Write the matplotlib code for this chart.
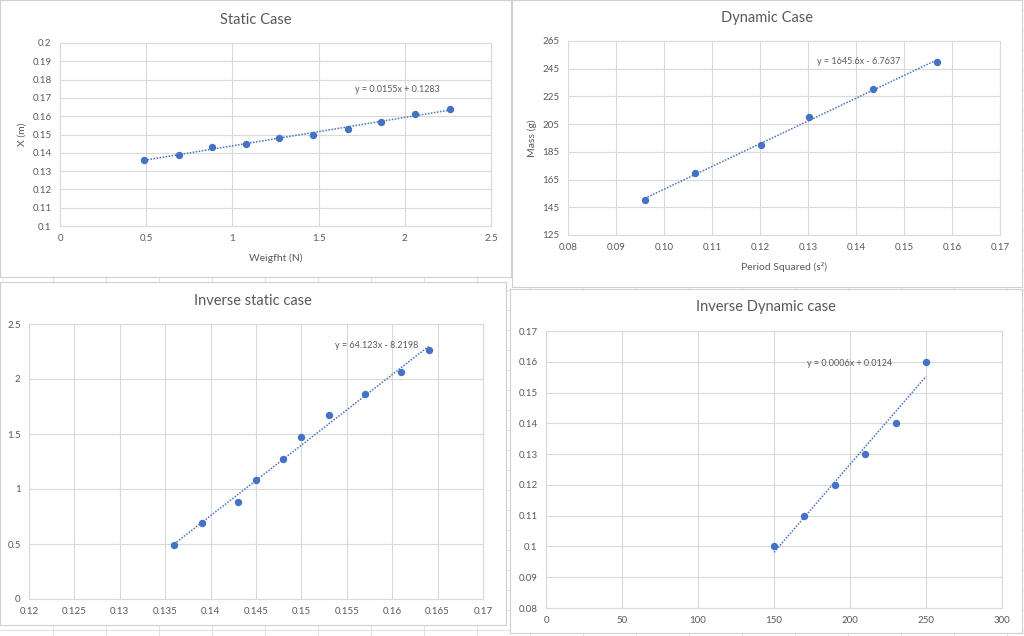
import numpy as np
import matplotlib
matplotlib.use('Agg')
from matplotlib import pyplot as plt
from matplotlib.ticker import FuncFormatter

plt.rcParams['font.family'] = ['Lato', 'DejaVu Sans']

# data
static_weight = [0.49, 0.69, 0.88, 1.08, 1.27, 1.47, 1.67, 1.86, 2.06, 2.26]
static_ext = [0.136, 0.139, 0.143, 0.145, 0.148, 0.150, 0.153, 0.157, 0.161, 0.164]

period_sq = [0.0960, 0.1065, 0.1203, 0.1302, 0.1435, 0.1569]
mass_g = [150, 170, 190, 210, 230, 250]

inv_dyn_y = [0.10, 0.11, 0.12, 0.13, 0.14, 0.16]

eq_static = 'y = 0.0155x + 0.1283'
eq_dynamic = 'y = 1645.6x - 6.7637'
eq_inv_static = 'y = 64.123x - 8.2198'
eq_inv_dynamic = 'y = 0.0006x + 0.0124'

BLUE = '#4472C4'
GRID = '#d9d9d9'
TXT = '#595959'
W, H = 1024, 636


def px_rect(x0, y0, x1, y1):
    return [x0 / W, 1 - y1 / H, (x1 - x0) / W, (y1 - y0) / H]


def panel(fig, frame, plot, title, title_y):
    bg = fig.add_axes(px_rect(*frame))
    bg.set_xticks([])
    bg.set_yticks([])
    bg.set_facecolor('white')
    for s in bg.spines.values():
        s.set_color('#d0d0d0')
        s.set_linewidth(0.8)
    fig.text((frame[0] + frame[2]) / 2 / W, 1 - title_y / H, title,
             ha='center', va='center', fontsize=10.5, color=TXT)
    ax = fig.add_axes(px_rect(*plot))
    ax.set_facecolor('white')
    ax.grid(True, color=GRID, lw=0.8)
    ax.set_axisbelow(True)
    for s in ax.spines.values():
        s.set_color(GRID)
        s.set_linewidth(0.8)
    ax.tick_params(length=0, labelsize=7, labelcolor=TXT, pad=6)
    return ax


def scatter_fit(ax, x, y, eq, eq_xy):
    x = np.asarray(x)
    y = np.asarray(y)
    k, b = np.polyfit(x, y, 1)
    xs = np.array([x.min(), x.max()])
    ax.plot(xs, k * xs + b, color=BLUE, lw=1.1, ls=(0, (1, 1)), zorder=2)
    ax.plot(x, y, 'o', color=BLUE, ms=4.3, zorder=3)
    ax.text(eq_xy[0], eq_xy[1], eq, fontsize=6.5, color=TXT, va='center', ha='left')


gfmt = FuncFormatter(lambda v, p: '{:g}'.format(round(v, 6)))

fig = plt.figure(figsize=(10.24, 6.36), dpi=100)

# faint spreadsheet cell grid behind the charts
bgax = fig.add_axes([0, 0, 1, 1])
bgax.set_xlim(0, W)
bgax.set_ylim(H, 0)
bgax.axis('off')
for cx in np.arange(53, W, 53):
    bgax.axvline(cx, color='#e3e3e3', lw=0.8)
for cy in np.arange(10, H, 20):
    bgax.axhline(cy, color='#e3e3e3', lw=0.8)

# Static case
ax1 = panel(fig, (0, 0, 511, 277), (60, 43, 491, 226), 'Static Case', 20)
scatter_fit(ax1, static_weight, static_ext, eq_static, (1.71, 0.1745))
ax1.set_xlim(0, 2.5)
ax1.set_ylim(0.1, 0.2)
ax1.set_xticks(np.arange(0, 2.51, 0.5))
ax1.set_yticks(np.arange(0.1, 0.2001, 0.01))
ax1.xaxis.set_major_formatter(gfmt)
ax1.yaxis.set_major_formatter(gfmt)
ax1.set_xlabel('Weigfht (N)', fontsize=7.5, color=TXT, labelpad=7)
ax1.set_ylabel('X (m)', fontsize=7.5, color=TXT, labelpad=4)

# Dynamic case
ax2 = panel(fig, (512, 0, 1022, 287), (568, 41, 1000, 235), 'Dynamic Case', 18)
scatter_fit(ax2, period_sq, mass_g, eq_dynamic, (0.1319, 250))
ax2.set_xlim(0.08, 0.17)
ax2.set_ylim(125, 265)
ax2.set_xticks(np.arange(0.08, 0.1701, 0.01))
ax2.set_yticks(np.arange(125, 266, 20))
ax2.xaxis.set_major_formatter(FuncFormatter(lambda v, p: '{:.2f}'.format(v)))
ax2.set_xlabel('Period Squared (s²)', fontsize=7.5, color=TXT, labelpad=7)
ax2.set_ylabel('Mass (g)', fontsize=7.5, color=TXT, labelpad=4)

# Inverse static case
ax3 = panel(fig, (0, 282, 506, 625), (29, 324, 483, 599), 'Inverse static case', 301)
scatter_fit(ax3, static_ext, static_weight, eq_inv_static, (0.1537, 2.3))
ax3.set_xlim(0.12, 0.17)
ax3.set_ylim(0, 2.5)
ax3.set_xticks(np.arange(0.12, 0.1701, 0.005))
ax3.set_yticks(np.arange(0, 2.51, 0.5))
ax3.xaxis.set_major_formatter(gfmt)
ax3.yaxis.set_major_formatter(gfmt)

# Inverse dynamic case
ax4 = panel(fig, (510, 289, 1022, 633), (546, 331, 1002, 608), 'Inverse Dynamic case', 307)
scatter_fit(ax4, mass_g, inv_dyn_y, eq_inv_dynamic, (172, 0.1596))
ax4.set_xlim(0, 300)
ax4.set_ylim(0.08, 0.17)
ax4.set_xticks(np.arange(0, 301, 50))
ax4.set_yticks(np.arange(0.08, 0.1701, 0.01))
ax4.xaxis.set_major_formatter(gfmt)
ax4.yaxis.set_major_formatter(gfmt)

fig.savefig('out.png', dpi=100)
